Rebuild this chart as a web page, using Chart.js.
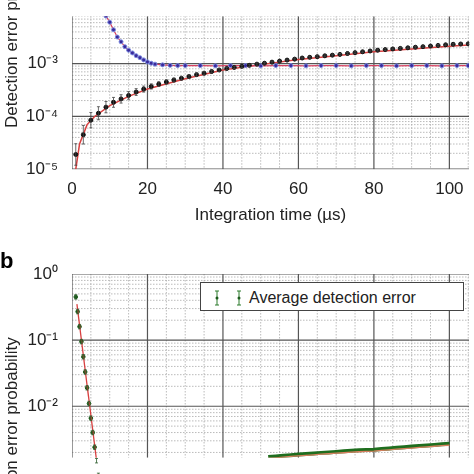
<!DOCTYPE html>
<html><head><meta charset="utf-8">
<script src="https://cdn.jsdelivr.net/npm/chart.js@4/dist/chart.umd.min.js"></script>
<style>
body{margin:0;width:474px;height:474px;overflow:hidden;background:#fff;font-family:"Liberation Sans",Arial,sans-serif;position:relative}
.c{position:absolute;left:0}
.rt{position:absolute;transform-origin:0 0;transform:rotate(-90deg);font-size:17px;white-space:nowrap;color:#222}
#leg{position:absolute;left:200px;top:282px;width:264px;height:29px;border:1px solid #444;background:#fff;font-size:16px;line-height:29px;box-sizing:border-box;padding-left:48px;color:#222}
</style></head><body>
<div class="c" style="top:0;width:474px;height:230px"><canvas id="a"></canvas></div>
<div class="c" style="top:250px;width:474px;height:224px"><canvas id="b"></canvas></div>
<div class="rt" style="left:2px;top:128px">Detection error probability</div>
<div class="rt" style="left:2px;top:532px">Detection error probability</div>
<div style="position:absolute;left:0;top:248px;font-weight:bold;font-size:22px">b</div>
<div id="leg"><svg style="position:absolute;left:6px;top:6px" width="40" height="18"><g stroke="#2a7a2a" stroke-width="1"><line x1="10" y1="2" x2="10" y2="16"/><line x1="8" y1="2" x2="12" y2="2"/><line x1="8" y1="16" x2="12" y2="16"/><line x1="32" y1="2" x2="32" y2="16"/><line x1="30" y1="2" x2="34" y2="2"/><line x1="30" y1="16" x2="34" y2="16"/></g><circle cx="10" cy="9" r="1.5" fill="#1a5a1a"/><circle cx="32" cy="9" r="1.5" fill="#1a5a1a"/></svg>Average detection error</div>
<script>
// ---- panel a data ----
const blackT=[1,3,5,7,9,11,13,15,17,19,21,23,25,27,29,31,33,35,37,39,41,43,45,47,49,51,53,55,57,59,61,63,65,67,69,71,73,75,77,79,81,83,85,87,89,91,93,95,97,99,101,103,105];
const blackV=[1.9e-5,4.5e-5,8.5e-5,1.15e-4,1.5e-4,1.85e-4,2.15e-4,2.5e-4,2.9e-4,3.3e-4,3.7e-4,4.1e-4,4.5e-4,4.9e-4,5.3e-4,5.7e-4,6.2e-4,6.6e-4,7.1e-4,7.6e-4,8.1e-4,8.5e-4,8.9e-4,9.3e-4,9.8e-4,1.02e-3,1.07e-3,1.12e-3,1.17e-3,1.22e-3,1.28e-3,1.32e-3,1.36e-3,1.41e-3,1.45e-3,1.5e-3,1.56e-3,1.62e-3,1.68e-3,1.74e-3,1.8e-3,1.85e-3,1.9e-3,1.95e-3,2.0e-3,2.05e-3,2.1e-3,2.16e-3,2.22e-3,2.28e-3,2.33e-3,2.36e-3,2.38e-3];
const blackErr=[1.6,1.5,1.4,1.33,1.28,1.24,1.2,1.18,1.16,1.14,1.12,1.11,1.1,1.09,1.08,1.08,1.07,1.07,1.06,1.06,1.05,1.05,1.05,1.05,1.05,1.04,1.04,1.04,1.04,1.04,1.04,1.04,1.04,1.04,1.04,1.04,1.04,1.04,1.04,1.04,1.04,1.04,1.04,1.04,1.04,1.04,1.04,1.04,1.04,1.04,1.04,1.04,1.04];
const fitAT=[1,2,4,6,10,15,20,30,40,50,60,70,80,90,100,105];
const fitAV=[1e-5,3e-5,7e-5,1.0e-4,1.6e-4,2.4e-4,3.3e-4,5.2e-4,7.6e-4,9.6e-4,1.2e-3,1.42e-3,1.68e-3,1.9e-3,2.15e-3,2.25e-3];
const blueT=[9,10,11,12,13,14,15,16,17,18,19,20,21,22,24,26,28,30,34,38,42,46,50,54,58,62,66,70,74,78,82,86,90,94,98,102,105];
const blueV=[8e-3,6.1e-3,4.4e-3,3.2e-3,2.6e-3,2.1e-3,1.8e-3,1.6e-3,1.42e-3,1.3e-3,1.18e-3,1.08e-3,1.02e-3,9.8e-4,9.5e-4,9.3e-4,9.2e-4,9.2e-4,9.2e-4,9.1e-4,9.2e-4,9.2e-4,9.1e-4,9.2e-4,9.2e-4,9.1e-4,9.2e-4,9.2e-4,9.1e-4,9.2e-4,9.2e-4,9.1e-4,9.2e-4,9.2e-4,9.1e-4,9.2e-4,9.2e-4];
const xTicks=[0,20,40,60,80,100];
const supers={"-1":"⁻¹","-2":"⁻²","-3":"⁻³","-4":"⁻⁴","-5":"⁻⁵","0":"⁰"};
// ---- panel b data ----
const greenT=[1,1.5,2,2.5,3,3.5,4,4.5,5,5.5,6,6.5,7];
const greenV=[0.45,0.27,0.16,0.095,0.056,0.033,0.019,0.011,0.0066,0.004,0.0024,0.0015,0.0009];
const fitB1T=[1.3,7];
const fitB1V=[0.35,0.0009];
const bandT=[52,54,56,58,60,62,64,66,68,70,72,74,76,78,80,82,84,86,88,90,92,94,96,98,100];
const bandV=[1.7e-3,1.74e-3,1.78e-3,1.82e-3,1.86e-3,1.9e-3,1.93e-3,1.97e-3,2.0e-3,2.04e-3,2.08e-3,2.12e-3,2.15e-3,2.18e-3,2.2e-3,2.25e-3,2.3e-3,2.35e-3,2.4e-3,2.45e-3,2.5e-3,2.55e-3,2.6e-3,2.65e-3,2.7e-3];
const fitBandV=[1.62e-3,1.66e-3,1.7e-3,1.74e-3,1.78e-3,1.81e-3,1.84e-3,1.88e-3,1.91e-3,1.95e-3,1.98e-3,2.02e-3,2.05e-3,2.08e-3,2.1e-3,2.15e-3,2.19e-3,2.24e-3,2.29e-3,2.33e-3,2.38e-3,2.43e-3,2.48e-3,2.53e-3,2.57e-3];

const pts=(t,v)=>t.map((x,i)=>({x,y:v[i]}));
const gridPlugin={id:'g',beforeDatasetsDraw(c){
  const {ctx,chartArea:a,scales:{x,y}}=c;ctx.save();
  ctx.beginPath();ctx.rect(a.left,a.top,a.right-a.left,a.bottom-a.top);ctx.clip();
  const lx=(v,maj)=>{const p=x.getPixelForValue(v);ctx.strokeStyle=maj?'#555':'#aaa';ctx.lineWidth=maj?1.2:0.8;ctx.setLineDash(maj?[]:[1.5,1.5]);ctx.beginPath();ctx.moveTo(p,a.top);ctx.lineTo(p,a.bottom);ctx.stroke();};
  const ly=(v,maj)=>{const p=y.getPixelForValue(v);ctx.strokeStyle=maj?'#555':'#aaa';ctx.lineWidth=maj?1.2:0.8;ctx.setLineDash(maj?[]:[1.5,1.5]);ctx.beginPath();ctx.moveTo(a.left,p);ctx.lineTo(a.right,p);ctx.stroke();};
  for(let v=5;v<=110;v+=5) if(v%20) lx(v,false);
  for(let e=-6;e<=0;e++) for(let m=2;m<=9;m++) ly(m*Math.pow(10,e),false);
  for(let v=0;v<=110;v+=20) lx(v,true);
  for(let e=-6;e<=0;e++) ly(Math.pow(10,e),true);
  ctx.restore();
},afterDatasetsDraw(c){
  const eb=c.options.plugins.eb; if(!eb) return;
  const {ctx,scales:{x,y}}=c;ctx.save();ctx.strokeStyle=eb.color;ctx.lineWidth=0.8;
  eb.t.forEach((t,i)=>{const px=x.getPixelForValue(t),y1=y.getPixelForValue(eb.v[i]*eb.f[i]),y2=y.getPixelForValue(eb.v[i]/eb.f[i]);
    ctx.beginPath();ctx.moveTo(px,y1);ctx.lineTo(px,y2);ctx.moveTo(px-1.5,y1);ctx.lineTo(px+1.5,y1);ctx.moveTo(px-1.5,y2);ctx.lineTo(px+1.5,y2);ctx.stroke();});
  ctx.restore();}};
const yLabel=v=>{const e=Math.round(Math.log10(v));return '10'+supers[String(e)];};
function cfg(datasets,ymin,ymax,decades,showX,pad,eb){
  return {type:'scatter',data:{datasets},plugins:[gridPlugin],options:{responsive:true,maintainAspectRatio:false,animation:false,
    layout:{padding:{top:pad,right:0,left:0,bottom:0}},
    plugins:{legend:{display:false},tooltip:{enabled:false},eb},
    scales:{
      x:{type:'linear',min:0,max:105.2,display:showX,grid:{display:false},border:{display:false},
        afterBuildTicks:s=>{s.ticks=xTicks.map(v=>({value:v}));},
        ticks:{font:{size:17,family:'Liberation Sans'},color:'#222',maxRotation:0,padding:2},
        title:{display:true,text:'Integration time (µs)',font:{size:17,family:'Liberation Sans'},color:'#222',padding:{top:4}}},
      y:{type:'logarithmic',min:ymin,max:ymax,grid:{display:false},border:{display:false},
        afterFit:s=>{s.width=72;},
        afterBuildTicks:s=>{s.ticks=decades.map(v=>({value:v}));},
        ticks:{font:{size:17,family:'Liberation Sans'},color:'#222',padding:6,callback:yLabel}}}}};
}
new Chart(document.getElementById('a'),cfg([
  {data:pts(fitAT,fitAV),showLine:true,borderColor:'#d84040',borderWidth:1.5,pointRadius:0,order:2},
  {data:pts(blueT,blueV),showLine:true,borderColor:'#d84060',borderWidth:1.2,pointRadius:2,pointBackgroundColor:'#3a2a9a',pointBorderColor:'#7a8ae0',pointBorderWidth:1,order:1},
  {data:pts(blackT,blackV),showLine:false,pointRadius:2,pointBackgroundColor:'#111',pointBorderColor:'#111',order:0}
],Math.pow(10,-5),Math.pow(10,-2.1),[1e-5,1e-4,1e-3],true,0,{t:blackT,v:blackV,f:blackErr,color:'#444'}));
new Chart(document.getElementById('b'),cfg([
  {data:pts(fitB1T,fitB1V),showLine:true,borderColor:'#d84040',borderWidth:1.3,pointRadius:0},
  {data:pts(bandT,fitBandV),showLine:true,borderColor:'#d88060',borderWidth:1.3,pointRadius:0},
  {data:pts(bandT,bandV),showLine:true,borderColor:'#1f6e1f',borderWidth:4,pointRadius:0},
  {data:pts(greenT,greenV),showLine:false,pointRadius:1.8,pointBackgroundColor:'#1a5a1a',pointBorderColor:'#1a5a1a'}
],Math.pow(10,-2.78),1,[1e-2,1e-1,1],false,24,{t:greenT,v:greenV,f:greenT.map(()=>1.08),color:'#2a5a2a'}));
</script></body></html>
